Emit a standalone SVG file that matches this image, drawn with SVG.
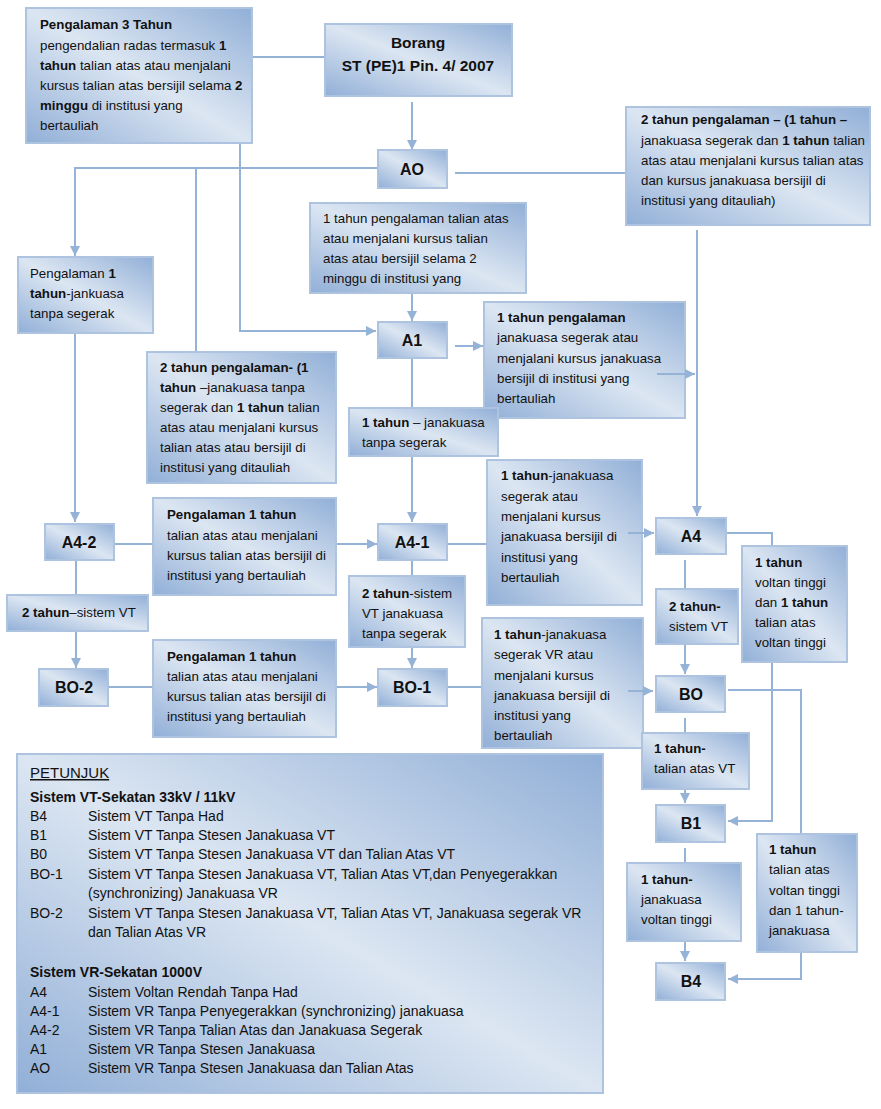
<svg xmlns="http://www.w3.org/2000/svg" width="881" height="1109" viewBox="0 0 881 1109">
<defs>
<linearGradient id="g" x1="1" y1="0" x2="0" y2="1">
<stop offset="0" stop-color="#91afd7"/>
<stop offset="0.5" stop-color="#dce6f2"/>
<stop offset="1" stop-color="#91afd7"/>
</linearGradient>
<marker id="ar" viewBox="0 0 10 10" refX="10" refY="5" markerWidth="10" markerHeight="10" markerUnits="userSpaceOnUse" orient="auto">
<path d="M0,0 L10,5 L0,10 z" fill="#95b3d7"/>
</marker>
<style>
.bx{fill:url(#g);stroke:#adc3df;stroke-width:2}
.t{font-family:"Liberation Sans",Arial,sans-serif;font-size:13.3px;fill:#111}
.b{font-weight:bold}
.lb{font-family:"Liberation Sans",Arial,sans-serif;font-size:16px;font-weight:bold;fill:#111;text-anchor:middle}
.lg{font-family:"Liberation Sans",Arial,sans-serif;font-size:14px;fill:#111}
.c{fill:none;stroke:#95b3d7;stroke-width:2}
.a{marker-end:url(#ar)}
</style>
</defs>
<rect width="881" height="1109" fill="#fff"/>
<g id="connectors">
<path class="c" d="M252,57 H325"/>
<path class="c a" d="M412,102 V150"/>
<path class="c a" d="M378,168 H75 V256"/>
<path class="c" d="M196,168 V352"/>
<path class="c a" d="M240,143 V331 H376"/>
<path class="c" d="M455,173 H626"/>
<path class="c a" d="M697,230 V516"/>
<path class="c a" d="M412,294 V321"/>
<path class="c a" d="M455,346 H483"/>
<path class="c a" d="M412,358 V522"/>
<path class="c a" d="M75,333 V522"/>
<path class="c" d="M114,544 H153"/>
<path class="c a" d="M336,544 H377"/>
<path class="c" d="M447,544 H487"/>
<path class="c a" d="M726,533 H772 V821 H728"/>
<path class="c a" d="M685,560 V674"/>
<path class="c a" d="M76,560 V668"/>
<path class="c a" d="M412,560 V668"/>
<path class="c" d="M108,687 H153"/>
<path class="c a" d="M336,687 H377"/>
<path class="c" d="M447,687 H482"/>
<path class="c a" d="M728,690 H801 V979 H728"/>
<path class="c a" d="M685,718 V803"/>
<path class="c a" d="M685,848 V961"/>
</g>
<g id="n-pengalaman3">
<rect class="bx" x="26" y="8" width="226" height="135"/>
<text class="t" x="40" y="29"><tspan class="b">Pengalaman 3 Tahun</tspan></text>
<text class="t" x="40" y="50">pengendalian radas termasuk <tspan class="b">1</tspan></text>
<text class="t" x="40" y="70"><tspan class="b">tahun</tspan> talian atas atau menjalani</text>
<text class="t" x="40" y="90">kursus talian atas bersijil selama <tspan class="b">2</tspan></text>
<text class="t" x="40" y="110"><tspan class="b">minggu</tspan> di institusi yang</text>
<text class="t" x="40" y="130">bertauliah</text>
</g>
<g id="n-borang">
<rect class="bx" x="325" y="24" width="187" height="72"/>
<text class="lb" x="418" y="48" style="font-size:15.5px">Borang</text>
<text class="lb" x="418" y="71" style="font-size:15.5px">ST (PE)1 Pin. 4/ 2007</text>
</g>
<g id="n-AO">
<rect class="bx" x="378" y="150" width="69" height="38"/>
<text class="lb" x="412" y="175">AO</text>
</g>
<g id="n-2tahun-right">
<rect class="bx" x="626" y="107" width="244" height="118"/>
<text class="t" x="641" y="124"><tspan class="b">2 tahun pengalaman – (1 tahun –</tspan></text>
<text class="t" x="641" y="145">janakuasa segerak dan <tspan class="b">1 tahun</tspan> talian</text>
<text class="t" x="641" y="165">atas atau menjalani kursus talian atas</text>
<text class="t" x="641" y="185">dan kursus janakuasa bersijil di</text>
<text class="t" x="641" y="205">institusi yang ditauliah)</text>
</g>
<g id="n-1tahun-mid">
<rect class="bx" x="310" y="203" width="216" height="90"/>
<text class="t" x="323" y="223">1 tahun pengalaman talian atas</text>
<text class="t" x="323" y="243">atau menjalani kursus talian</text>
<text class="t" x="323" y="263">atas atau bersijil selama 2</text>
<text class="t" x="323" y="283">minggu di institusi yang</text>
</g>
<g id="n-peng1-left">
<rect class="bx" x="18" y="257" width="135" height="76"/>
<text class="t" x="30" y="278">Pengalaman <tspan class="b">1</tspan></text>
<text class="t" x="30" y="298"><tspan class="b">tahun</tspan>-jankuasa</text>
<text class="t" x="30" y="318">tanpa segerak</text>
</g>
<g id="n-A1">
<rect class="bx" x="378" y="322" width="69" height="36"/>
<text class="lb" x="412" y="346">A1</text>
</g>
<g id="n-1tahun-janakuasa-segerak">
<rect class="bx" x="484" y="302" width="201" height="116"/>
<text class="t" x="497" y="322"><tspan class="b">1 tahun pengalaman</tspan></text>
<text class="t" x="497" y="342">janakuasa segerak atau</text>
<text class="t" x="497" y="363">menjalani kursus janakuasa</text>
<text class="t" x="497" y="383">bersijil di institusi yang</text>
<text class="t" x="497" y="403">bertauliah</text>
</g>
<g id="n-2tahun-left">
<rect class="bx" x="147" y="352" width="189" height="131"/>
<text class="t" x="160" y="372"><tspan class="b">2 tahun pengalaman- (1</tspan></text>
<text class="t" x="160" y="392"><tspan class="b">tahun</tspan> –janakuasa tanpa</text>
<text class="t" x="160" y="412">segerak dan <tspan class="b">1 tahun</tspan> talian</text>
<text class="t" x="160" y="432">atas atau menjalani kursus</text>
<text class="t" x="160" y="452">talian atas atau bersijil di</text>
<text class="t" x="160" y="472">institusi yang ditauliah</text>
</g>
<g id="n-1tahun-tanpa">
<rect class="bx" x="349" y="408" width="149" height="48"/>
<text class="t" x="362" y="427"><tspan class="b">1 tahun</tspan> – janakuasa</text>
<text class="t" x="362" y="447">tanpa segerak</text>
</g>
<g id="n-A4-2">
<rect class="bx" x="45" y="524" width="69" height="36"/>
<text class="lb" x="79" y="548">A4-2</text>
</g>
<g id="n-peng1-A4">
<rect class="bx" x="153" y="498" width="183" height="97"/>
<text class="t" x="167" y="519"><tspan class="b">Pengalaman 1 tahun</tspan></text>
<text class="t" x="167" y="540">talian atas atau menjalani</text>
<text class="t" x="167" y="560">kursus talian atas bersijil di</text>
<text class="t" x="167" y="580">institusi yang bertauliah</text>
</g>
<g id="n-A4-1">
<rect class="bx" x="378" y="524" width="69" height="36"/>
<text class="lb" x="412" y="548">A4-1</text>
</g>
<g id="n-1tahun-seg-atau">
<rect class="bx" x="487" y="460" width="155" height="145"/>
<text class="t" x="501" y="480"><tspan class="b">1 tahun</tspan>-janakuasa</text>
<text class="t" x="501" y="501">segerak atau</text>
<text class="t" x="501" y="521">menjalani kursus</text>
<text class="t" x="501" y="541">janakuasa bersijil di</text>
<text class="t" x="501" y="562">institusi yang</text>
<text class="t" x="501" y="582">bertauliah</text>
</g>
<g id="n-A4">
<rect class="bx" x="656" y="518" width="70" height="36"/>
<text class="lb" x="691" y="542">A4</text>
</g>
<g id="n-1tahun-voltan">
<rect class="bx" x="742" y="546" width="105" height="116"/>
<text class="t" x="755" y="567"><tspan class="b">1 tahun</tspan></text>
<text class="t" x="755" y="587">voltan tinggi</text>
<text class="t" x="755" y="607">dan <tspan class="b">1 tahun</tspan></text>
<text class="t" x="755" y="627">talian atas</text>
<text class="t" x="755" y="647">voltan tinggi</text>
</g>
<g id="n-2tahun-sistemVT-left">
<rect class="bx" x="7" y="595" width="141" height="36"/>
<text class="t" x="22" y="617"><tspan class="b">2 tahun</tspan>–sistem VT</text>
</g>
<g id="n-2tahun-sistemVT-mid">
<rect class="bx" x="349" y="576" width="116" height="71"/>
<text class="t" x="362" y="598"><tspan class="b">2 tahun</tspan>-sistem</text>
<text class="t" x="362" y="618">VT janakuasa</text>
<text class="t" x="362" y="638">tanpa segerak</text>
</g>
<g id="n-2tahun-sistemVT-right">
<rect class="bx" x="656" y="589" width="82" height="55"/>
<text class="t" x="669" y="611"><tspan class="b">2 tahun-</tspan></text>
<text class="t" x="669" y="631">sistem VT</text>
</g>
<g id="n-BO-2">
<rect class="bx" x="39" y="669" width="69" height="37"/>
<text class="lb" x="74" y="693">BO-2</text>
</g>
<g id="n-peng1-BO">
<rect class="bx" x="153" y="640" width="183" height="97"/>
<text class="t" x="167" y="661"><tspan class="b">Pengalaman 1 tahun</tspan></text>
<text class="t" x="167" y="681">talian atas atau menjalani</text>
<text class="t" x="167" y="701">kursus talian atas bersijil di</text>
<text class="t" x="167" y="721">institusi yang bertauliah</text>
</g>
<g id="n-BO-1">
<rect class="bx" x="378" y="669" width="69" height="37"/>
<text class="lb" x="412" y="693">BO-1</text>
</g>
<g id="n-1tahun-segVR">
<rect class="bx" x="482" y="618" width="161" height="130"/>
<text class="t" x="494" y="639"><tspan class="b">1 tahun</tspan>-janakuasa</text>
<text class="t" x="494" y="659">segerak VR atau</text>
<text class="t" x="494" y="680">menjalani kursus</text>
<text class="t" x="494" y="700">janakuasa bersijil di</text>
<text class="t" x="494" y="720">institusi yang</text>
<text class="t" x="494" y="740">bertauliah</text>
</g>
<g id="n-BO">
<rect class="bx" x="656" y="676" width="69" height="36"/>
<text class="lb" x="691" y="700">BO</text>
</g>
<g id="n-1tahun-talianVT">
<rect class="bx" x="642" y="733" width="107" height="56"/>
<text class="t" x="654" y="753"><tspan class="b">1 tahun-</tspan></text>
<text class="t" x="654" y="773">talian atas VT</text>
</g>
<g id="n-B1">
<rect class="bx" x="656" y="805" width="69" height="37"/>
<text class="lb" x="691" y="829">B1</text>
</g>
<g id="n-1tahun-jkvt">
<rect class="bx" x="627" y="863" width="114" height="78"/>
<text class="t" x="641" y="884"><tspan class="b">1 tahun-</tspan></text>
<text class="t" x="641" y="904">janakuasa</text>
<text class="t" x="641" y="924">voltan tinggi</text>
</g>
<g id="n-1tahun-talian-jk">
<rect class="bx" x="757" y="834" width="100" height="118"/>
<text class="t" x="769" y="854"><tspan class="b">1 tahun</tspan></text>
<text class="t" x="769" y="874">talian atas</text>
<text class="t" x="769" y="895">voltan tinggi</text>
<text class="t" x="769" y="915">dan 1 tahun-</text>
<text class="t" x="769" y="935">janakuasa</text>
</g>
<g id="n-B4">
<rect class="bx" x="656" y="963" width="69" height="37"/>
<text class="lb" x="691" y="987">B4</text>
</g>
<g id="connectors-over">
<path class="c a" d="M657,374 H695"/>
<path class="c a" d="M628,533 H654"/>
<path class="c a" d="M628,691 H653"/>
</g>
<g id="legend">
<rect class="bx" x="17" y="754" width="586" height="339"/>
<text class="lg" x="30" y="778" style="font-size:15px;text-decoration:underline">PETUNJUK</text>
<text class="lg b" x="30" y="802">Sistem VT-Sekatan 33kV / 11kV</text>
<text class="lg" x="30" y="821">B4</text><text class="lg" x="88" y="821">Sistem VT Tanpa Had</text>
<text class="lg" x="30" y="840">B1</text><text class="lg" x="88" y="840">Sistem VT Tanpa Stesen Janakuasa VT</text>
<text class="lg" x="30" y="859">B0</text><text class="lg" x="88" y="859">Sistem VT Tanpa Stesen Janakuasa VT dan Talian Atas VT</text>
<text class="lg" x="30" y="879">BO-1</text><text class="lg" x="88" y="879">Sistem VT Tanpa Stesen Janakuasa VT, Talian Atas VT,dan Penyegerakkan</text>
<text class="lg" x="88" y="898">(synchronizing) Janakuasa VR</text>
<text class="lg" x="30" y="918">BO-2</text><text class="lg" x="88" y="918">Sistem VT Tanpa Stesen Janakuasa VT, Talian Atas VT, Janakuasa segerak VR</text>
<text class="lg" x="88" y="937">dan Talian Atas VR</text>
<text class="lg b" x="30" y="977">Sistem VR-Sekatan 1000V</text>
<text class="lg" x="30" y="997">A4</text><text class="lg" x="88" y="997">Sistem Voltan Rendah Tanpa Had</text>
<text class="lg" x="30" y="1016">A4-1</text><text class="lg" x="88" y="1016">Sistem VR Tanpa Penyegerakkan (synchronizing) janakuasa</text>
<text class="lg" x="30" y="1035">A4-2</text><text class="lg" x="88" y="1035">Sistem VR Tanpa Talian Atas dan Janakuasa Segerak</text>
<text class="lg" x="30" y="1054">A1</text><text class="lg" x="88" y="1054">Sistem VR Tanpa Stesen Janakuasa</text>
<text class="lg" x="30" y="1073">AO</text><text class="lg" x="88" y="1073">Sistem VR Tanpa Stesen Janakuasa dan Talian Atas</text>
</g>
</svg>
